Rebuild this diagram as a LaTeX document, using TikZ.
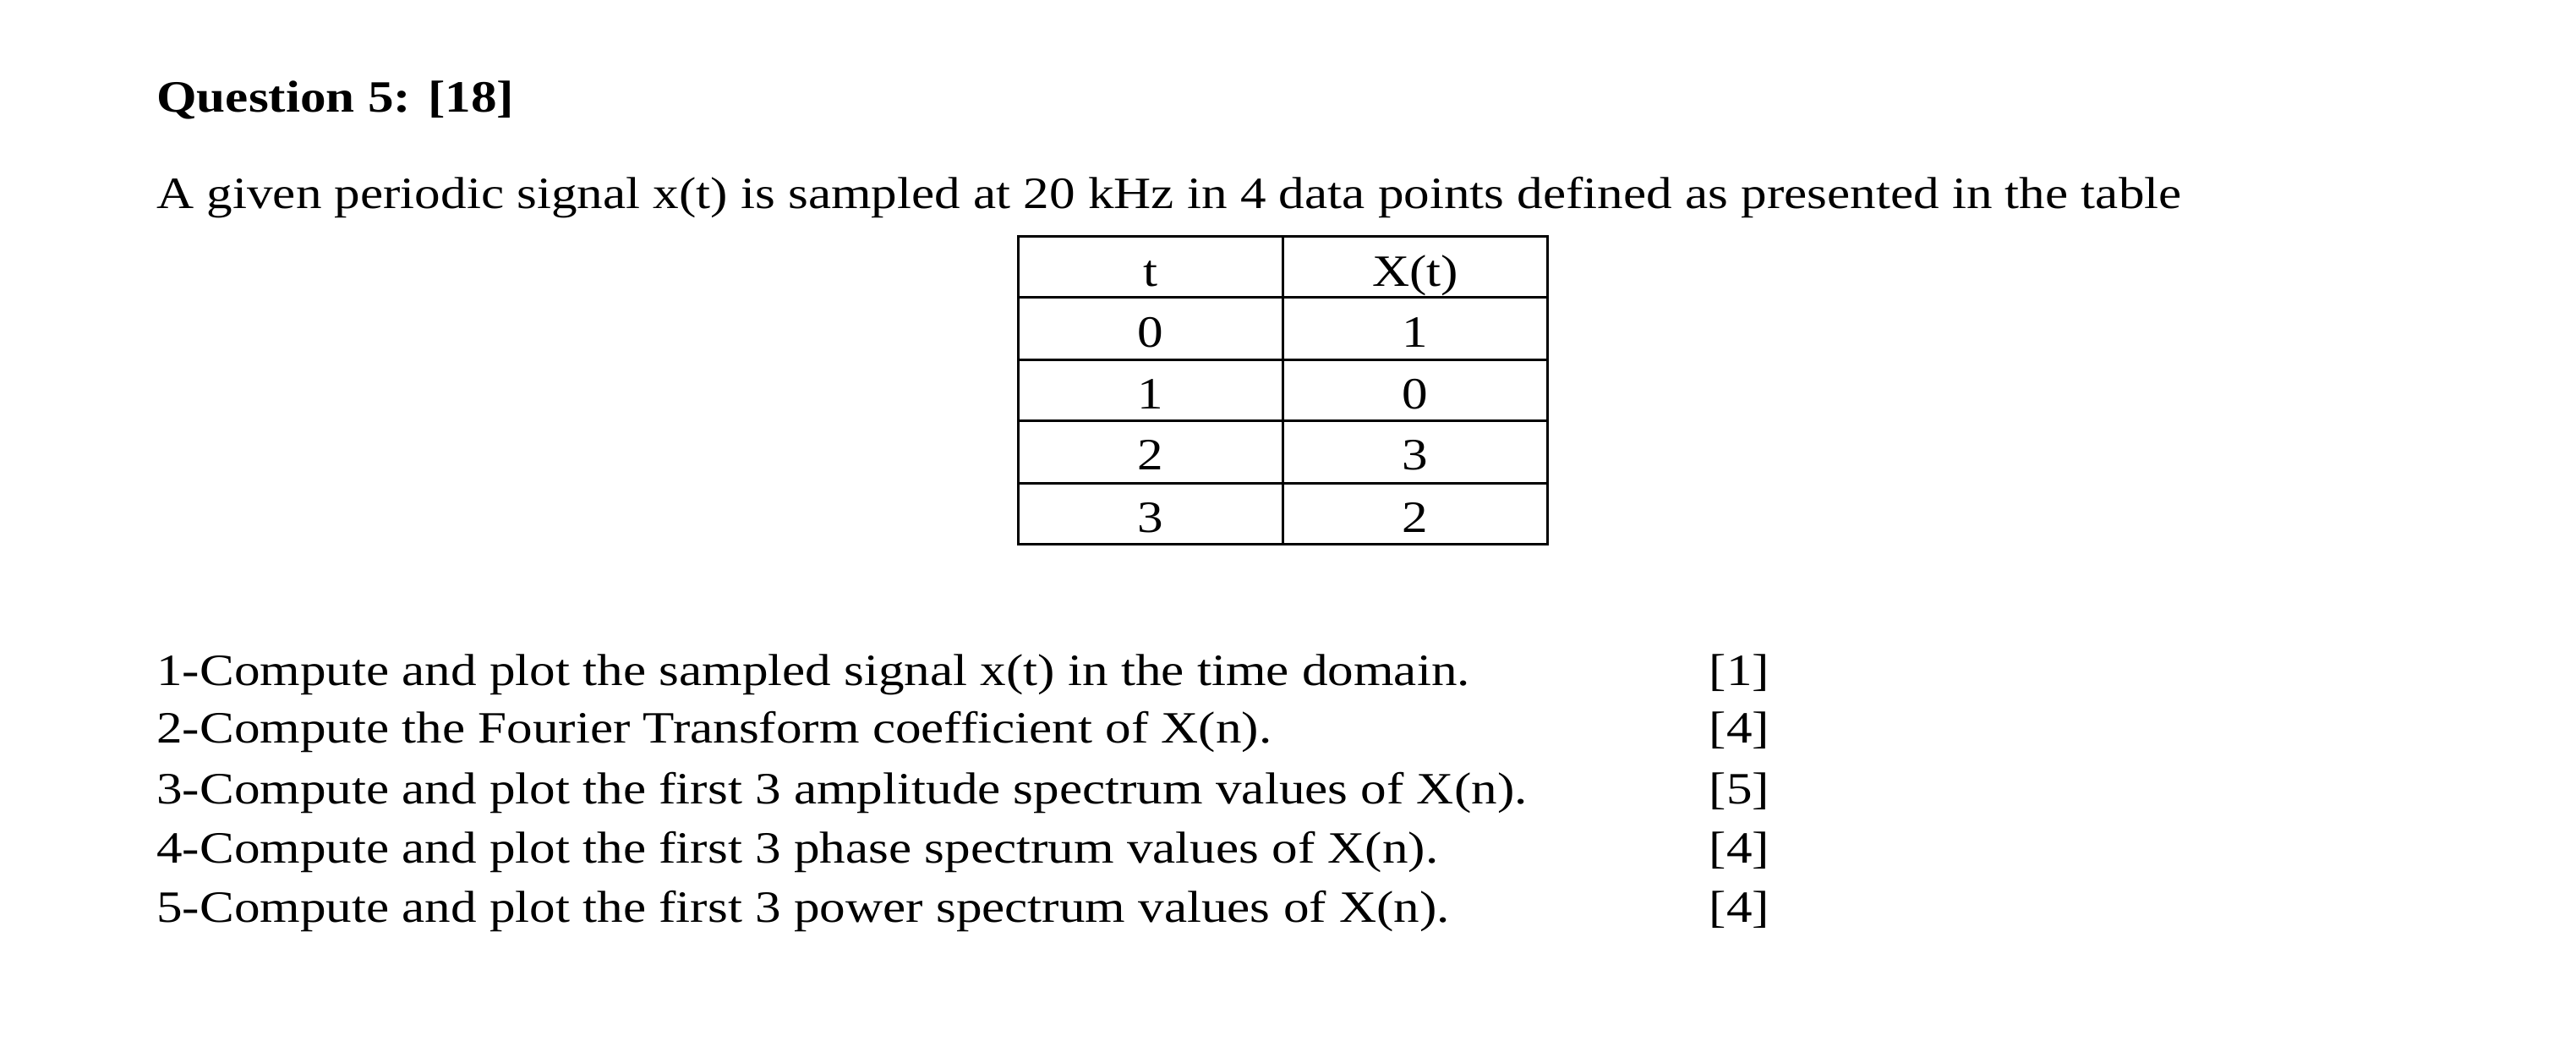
\documentclass[tikz,border=0pt]{standalone}
\usepackage{fontspec}
\setmainfont{Liberation Serif}
\begin{document}
\begin{tikzpicture}[x=0.02cm,y=-0.02cm,
  txt/.style={anchor=base west,inner sep=0pt,xscale=1.155,font=\fontsize{15.5}{18}\selectfont},
  cell/.style={anchor=base,inner sep=0pt,xscale=1.155,font=\fontsize{15.5}{18}\selectfont},
  grid/.style={line width=0.9pt}]
\useasboundingbox (0,0) rectangle (1568,637);
\node[txt,font=\fontsize{15.5}{18}\selectfont\bfseries] (q) at (95,68) {Question 5: [18]};
\node[txt] (intro) at (95,127) {A given periodic signal x(t) is sampled at 20 kHz in 4 data points defined as presented in the table};
% table
\draw[grid] (620,144) rectangle (942,331);
\draw[grid] (781,144) -- (781,331);
\foreach \y in {181,219,256,294} \draw[grid] (620,\y) -- (942,\y);
\foreach \a/\b/\y/\n in {t/X(t)/174/h,0/1/211/r0,1/0/249/r1,2/3/286/r2,3/2/324/r3}{
  \node[cell] (t\n) at (700.5,\y) {\a};
  \node[cell] (x\n) at (861.5,\y) {\b};
}
\foreach \t/\m/\y/\n in {
 {1-Compute and plot the sampled signal x(t) in the time domain.}/{[1]}/417/1,
 {2-Compute the Fourier Transform coefficient of X(n).}/{[4]}/452/2,
 {3-Compute and plot the first 3 amplitude spectrum values of X(n).}/{[5]}/489/3,
 {4-Compute and plot the first 3 phase spectrum values of X(n).}/{[4]}/525/4,
 {5-Compute and plot the first 3 power spectrum values of X(n).}/{[4]}/561/5}{
  \node[txt] (item\n) at (95,\y) {\t};
  \node[txt] (mark\n) at (1040,\y) {\m};
}
\end{tikzpicture}
\end{document}
